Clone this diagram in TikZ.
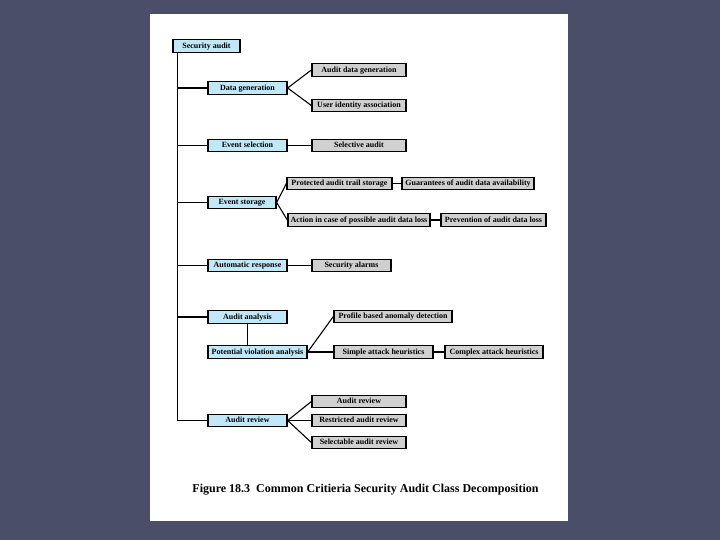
\documentclass[tikz,border=0pt]{standalone}
\usepackage{fontspec}
\setmainfont{Liberation Serif}
\usepackage{xcolor}
\usepackage{tikz}
\usetikzlibrary{calc,positioning}
\definecolor{slide}{RGB}{74,78,104}
\definecolor{boxblue}{RGB}{192,232,248}
\definecolor{boxgray}{RGB}{208,208,208}

\begin{document}
\begin{tikzpicture}[x=1pt,y=-1pt,font=\fontsize{8}{10}\selectfont\bfseries,
    box/.style={draw=black,line width=1.3pt,minimum height=12.5pt,inner sep=1pt,
      text height=5.6pt,text depth=1.2pt},
    cls/.style={box,fill=boxblue,minimum width=79pt},
    fam/.style={box,fill=boxgray},
    link/.style={line width=1.1pt}]
    % page
    \fill[slide] (0,0) rectangle (720,540);
    \fill[white] (150,14) rectangle (568,521);
    \useasboundingbox (0,0) rectangle (720,540);
    % classes
    \node[cls,minimum width=67pt] (sa) at (206.5,46) {Security audit};
    \node[cls] (dg)  at (247.5,88)    {Data generation};
    \node[cls] (es)  at (247.5,145.5) {Event selection};
    \node[cls,minimum width=68pt] (est) at (242,202.5) {Event storage};
    \node[cls] (ar)  at (247.5,265.5) {Automatic response};
    \node[cls] (aa)  at (247.5,317)   {Audit analysis};
    \node[cls,minimum width=99pt] (pva) at (257.5,352) {Potential violation analysis};
    \node[cls] (rev) at (247.5,420.5) {Audit review};
    % families
    \node[fam,minimum width=94pt]  (adg)  at (359,70)      {Audit data generation};
    \node[fam,minimum width=94pt]  (uia)  at (359,105.5)   {User identity association};
    \node[fam,minimum width=94pt]  (sel)  at (359,145.5)   {Selective audit};
    \node[fam,minimum width=105pt] (pats) at (339.5,183.5) {Protected audit trail storage};
    \node[fam,minimum width=132pt] (gada) at (468,183.5)   {Guarantees of audit data availability};
    \node[fam,minimum width=142pt] (act)  at (359,220)     {Action in case of possible audit data loss};
    \node[fam,minimum width=105pt] (prev) at (493.5,220)   {Prevention of audit data loss};
    \node[fam,minimum width=79pt]  (alarm) at (351.5,265.5) {Security alarms};
    \node[fam,minimum width=118pt] (pbad) at (393,316.5)   {Profile based anomaly detection};
    \node[fam,minimum width=99pt]  (sah)  at (383.5,352)   {Simple attack heuristics};
    \node[fam,minimum width=98pt]  (cah)  at (494,352)     {Complex attack heuristics};
    \node[fam,minimum width=94pt]  (rev1) at (359,401.5)   {Audit review};
    \node[fam,minimum width=94pt]  (rev2) at (359,420.5)   {Restricted audit review};
    \node[fam,minimum width=94pt]  (rev3) at (359,442.5)   {Selectable audit review};
    % spine
    \coordinate (top) at ($(sa.south west)+(5,0)$);
    \draw[link] (top) |- (rev.west);
    \foreach \n in {dg,es,est,ar,aa} \draw[link] (top |- \n.west) -- (\n.west);
    \draw[link] (aa.south) -- (aa.south |- pva.north);
    % fans
    \foreach \p/\c in {dg/adg,dg/uia,es/sel,est/pats,est/act,pats/gada,act/prev,
                       ar/alarm,pva/pbad,pva/sah,sah/cah,rev/rev1,rev/rev2,rev/rev3}
      \draw[link] (\p.east) -- (\c.west);
    % caption
    \node[font=\fontsize{12}{14}\selectfont\bfseries] (cap) at (365.5,490)
      {Figure 18.3\ \ Common Critieria Security Audit Class Decomposition};
\end{tikzpicture}
\end{document}
